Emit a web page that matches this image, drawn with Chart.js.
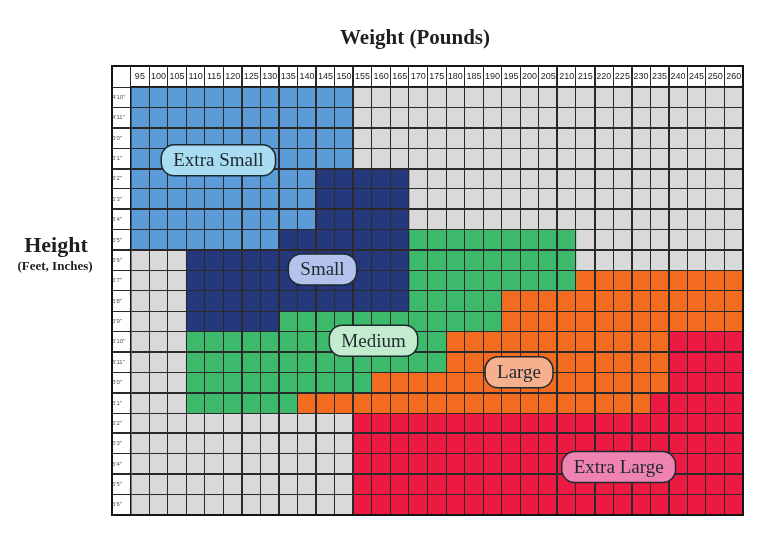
<!DOCTYPE html>
<html>
<head>
<meta charset="utf-8">
<title>Body frame size by height and weight</title>
<script src="https://cdn.jsdelivr.net/npm/chart.js@4.4.0/dist/chart.umd.min.js"></script>
<style>
  html, body { margin: 0; padding: 0; background: #fff; }
  #wrap { width: 768px; height: 542px; }
</style>
</head>
<body>
<div id="wrap"><canvas id="chart" width="768" height="542"></canvas></div>
<script>
const weights = [95, 100, 105, 110, 115, 120, 125, 130, 135, 140, 145, 150, 155, 160, 165, 170, 175,
                 180, 185, 190, 195, 200, 205, 210, 215, 220, 225, 230, 235, 240, 245, 250, 260];
const heights = ["4'10\"", "4'11\"", "5'0\"", "5'1\"", "5'2\"", "5'3\"", "5'4\"", "5'5\"", "5'6\"", "5'7\"",
                 "5'8\"", "5'9\"", "5'10\"", "5'11\"", "6'0\"", "6'1\"", "6'2\"", "6'3\"", "6'4\"", "6'5\"", "6'6\""];

// [from, to] weight for each height row, null where the size is not present
const extraSmall = [[95, 150], [95, 150], [95, 150], [95, 150], [95, 140], [95, 140], [95, 140], [95, 130],
                    null, null, null, null, null, null, null, null, null, null, null, null, null];
const small = [null, null, null, null, [145, 165], [145, 165], [145, 165], [135, 165], [110, 165], [110, 165],
               [110, 165], [110, 130], null, null, null, null, null, null, null, null, null];
const medium = [null, null, null, null, null, null, null, [170, 210], [170, 210], [170, 210], [170, 190],
                [135, 190], [110, 175], [110, 175], [110, 155], [110, 135], null, null, null, null, null];
const large = [null, null, null, null, null, null, null, null, null, [215, 260], [195, 260], [195, 260],
               [180, 235], [180, 235], [160, 235], [140, 230], null, null, null, null, null];
const extraLarge = [null, null, null, null, null, null, null, null, null, null, null, null,
                    [240, 260], [240, 260], [240, 260], [235, 260], [155, 260], [155, 260], [155, 260], [155, 260], [155, 260]];

const sizeNames = ['Extra Small', 'Small', 'Medium', 'Large', 'Extra Large'];
const sizeRows = [extraSmall, small, medium, large, extraLarge];
const cellColors = ['#5b9bd7', '#26387c', '#3cb96b', '#f26b1f', '#ec1a43'];
const pillColors = ['#a9dcf1', '#b3c3eb', '#c3ebcd', '#f6b08d', '#ee82b0'];
// where each name bubble sits, in column / row units
const pillAt = [[4.73, 3.1], [10.34, 8.45], [13.09, 11.95], [20.93, 13.5], [26.3, 18.15]];

const thickCols = [6, 8, 10, 12, 23, 25, 27, 29];
const thickRows = [2, 4, 6, 8, 13, 15, 17, 19];
const lineColor = '#2a2a2a';

function toCells(rows) {
  return rows.map(r => r ? [weights.indexOf(r[0]), weights.indexOf(r[1]) + 1] : null);
}

const tableDecor = {
  id: 'tableDecor',
  beforeDraw(chart) {
    const { ctx, chartArea: a } = chart;
    ctx.save();
    ctx.fillStyle = '#d9d9d9';
    ctx.fillRect(a.left, a.top, a.right - a.left, a.bottom - a.top);
    ctx.restore();
  },
  afterDraw(chart) {
    const { ctx, chartArea: a, scales: { x, y } } = chart;
    ctx.save();
    ctx.strokeStyle = '#151515';
    ctx.lineWidth = 2;
    ctx.strokeRect(y.left, x.top, a.right - y.left, a.bottom - x.top);

    ctx.fillStyle = '#1f1f1f';
    ctx.textAlign = 'center';
    ctx.textBaseline = 'alphabetic';
    ctx.font = 'bold 21px "Liberation Serif"';
    ctx.fillText('Weight (Pounds)', 415, 44);
    ctx.font = 'bold 22px "Liberation Serif"';
    ctx.fillText('Height', 56, 252);
    ctx.font = 'bold 13px "Liberation Serif"';
    ctx.fillText('(Feet, Inches)', 55, 270);

    sizeNames.forEach((name, i) => {
      const cx = x.getPixelForValue(pillAt[i][0]);
      const cy = y.getPixelForValue(pillAt[i][1]);
      ctx.font = '19px "Liberation Serif"';
      const w = ctx.measureText(name).width + 24;
      const h = 31;
      ctx.beginPath();
      ctx.roundRect(cx - w / 2, cy - h / 2, w, h, 13);
      ctx.fillStyle = pillColors[i];
      ctx.fill();
      ctx.lineWidth = 1.5;
      ctx.strokeStyle = '#1d2a30';
      ctx.stroke();
      ctx.fillStyle = '#1d2a30';
      ctx.textBaseline = 'middle';
      ctx.fillText(name, cx, cy + 1);
    });
    ctx.restore();
  }
};

new Chart(document.getElementById('chart'), {
  type: 'bar',
  data: {
    labels: heights,
    datasets: sizeRows.map((rows, i) => ({
      label: sizeNames[i],
      data: toCells(rows),
      backgroundColor: cellColors[i],
      borderWidth: 0,
      barPercentage: 1,
      categoryPercentage: 1,
      grouped: false
    }))
  },
  options: {
    indexAxis: 'y',
    responsive: false,
    animation: false,
    events: [],
    layout: { padding: { top: 66, left: 112, right: 25, bottom: 27 } },
    plugins: {
      legend: { display: false },
      tooltip: { enabled: false },
      title: { display: false }
    },
    scales: {
      x: {
        type: 'linear',
        position: 'top',
        min: 0,
        max: weights.length,
        afterBuildTicks: (scale) => {
          scale.ticks = Array.from({ length: weights.length + 1 }, (_, i) => ({ value: i }));
        },
        afterFit: (scale) => { scale.height = 21; },
        ticks: {
          autoSkip: false,
          maxRotation: 0,
          padding: -15.9,
          labelOffset: 9.28,
          color: '#222',
          font: { family: '"Liberation Sans"', size: 9 },
          callback: (v) => weights[v] !== undefined ? String(weights[v]) : ''
        },
        grid: {
          z: 1,
          color: lineColor,
          tickLength: 21,
          lineWidth: (c) => c.tick && thickCols.includes(c.tick.value) ? 2 : 1
        },
        border: { z: 1, color: '#151515', width: 1.5 }
      },
      y: {
        position: 'left',
        afterFit: (scale) => { scale.width = 18.6; },
        ticks: {
          crossAlign: 'far',
          color: '#555',
          font: { family: '"Liberation Sans"', size: 6 }
        },
        grid: {
          z: 1,
          color: lineColor,
          tickLength: 18.6,
          lineWidth: (c) => thickRows.includes(c.index) ? 2 : 1
        },
        border: { z: 1, color: '#151515', width: 1.5 }
      }
    }
  },
  plugins: [tableDecor]
});
</script>
</body>
</html>
